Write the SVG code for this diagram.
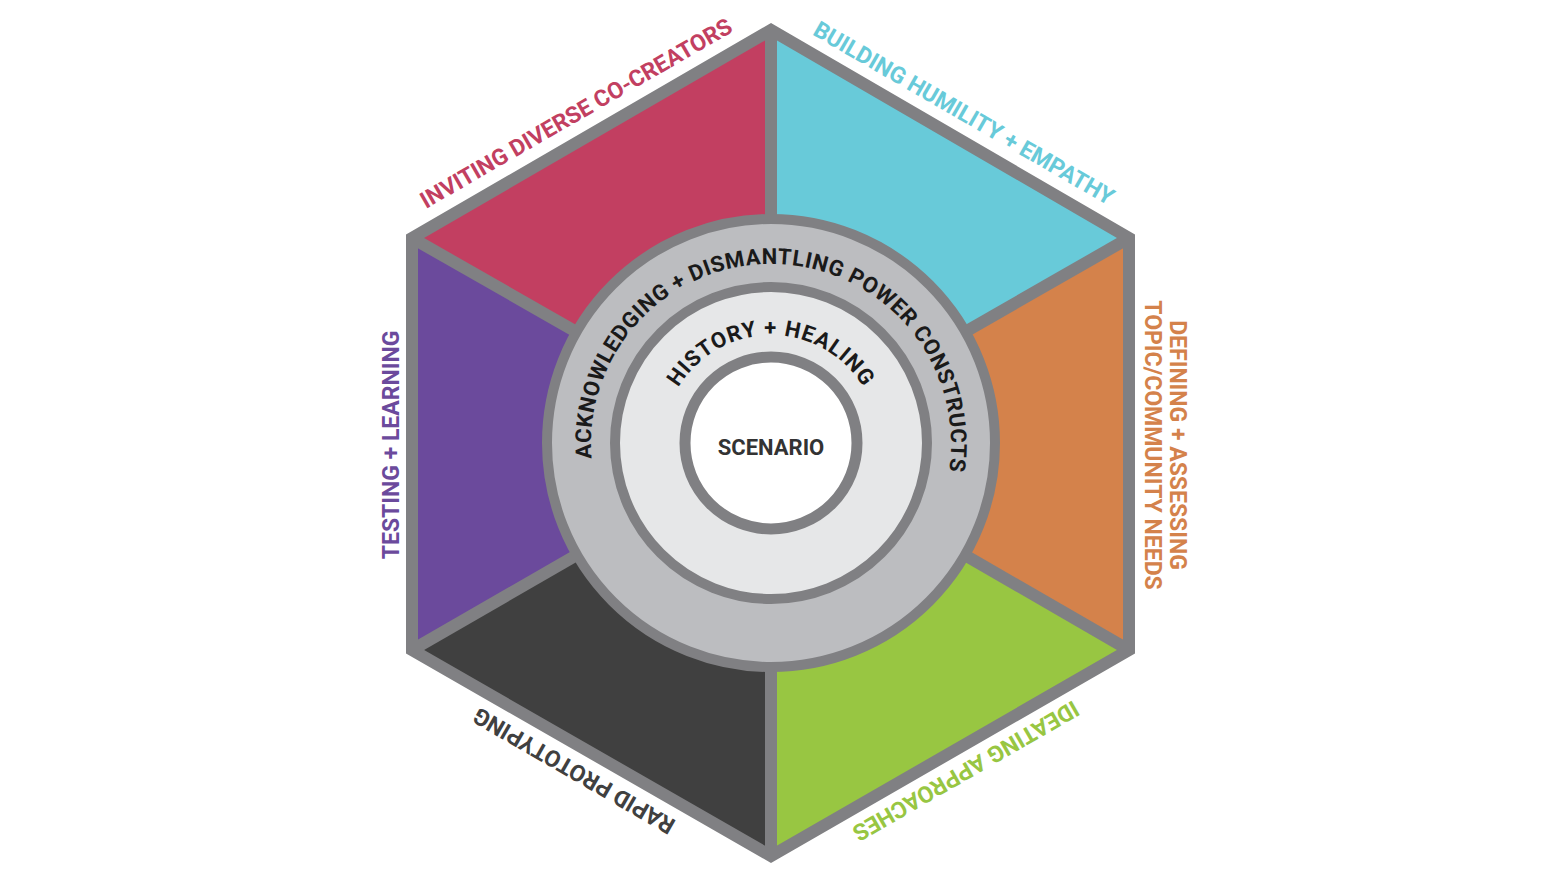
<svg xmlns="http://www.w3.org/2000/svg" width="1568" height="882" viewBox="0 0 1568 882">
<style>
.lbl{font-family:Roboto,"Liberation Sans",sans-serif;font-weight:bold;font-size:23px;text-anchor:middle}
.ring{font-family:Roboto,"Liberation Sans",sans-serif;font-weight:bold;font-size:22px;fill:#1a1a1a}
.div{stroke:#808083;stroke-width:12}
</style>
<defs>
<path id="arcOuter" d="M597,490 A180,180 0 1 1 945,490"/>
<path id="arcInner" d="M669.5,480 A108,108 0 1 1 872.5,480"/>
</defs>
<rect width="1568" height="882" fill="#fff"/>
<g id="segments">
<polygon id="seg-invite" points="771,443 412,238 771,30" fill="#c23f61"/>
<polygon id="seg-build" points="771,443 771,30 1129,238" fill="#68cad9"/>
<polygon id="seg-define" points="771,443 1129,238 1129,650" fill="#d4824b"/>
<polygon id="seg-ideate" points="771,443 1129,650 771,856" fill="#98c642"/>
<polygon id="seg-rapid" points="771,443 771,856 412,650" fill="#404040"/>
<polygon id="seg-test" points="771,443 412,650 412,238" fill="#6b4a9c"/>
</g>
<g id="connectors">
<line class="div" x1="771" y1="443" x2="771" y2="30"/>
<line class="div" x1="771" y1="443" x2="1129" y2="238"/>
<line class="div" x1="771" y1="443" x2="1129" y2="650"/>
<line class="div" x1="771" y1="443" x2="771" y2="856"/>
<line class="div" x1="771" y1="443" x2="412" y2="650"/>
<line class="div" x1="771" y1="443" x2="412" y2="238"/>
<polygon points="771,30 1129,238 1129,650 771,856 412,650 412,238" fill="none" stroke="#808083" stroke-width="12" stroke-linejoin="miter"/>
</g>
<g id="ring-outer">
<circle cx="771" cy="443" r="224" fill="#bcbdc0" stroke="#808083" stroke-width="10"/>
<text class="ring" letter-spacing="0.6"><textPath href="#arcOuter" startOffset="51%" text-anchor="middle">ACKNOWLEDGING + DISMANTLING POWER CONSTRUCTS</textPath></text>
</g>
<g id="ring-middle">
<circle cx="771" cy="443" r="156" fill="#e6e7e8" stroke="#808083" stroke-width="10"/>
<text class="ring" letter-spacing="1"><textPath href="#arcInner" startOffset="50%" text-anchor="middle">HISTORY + HEALING</textPath></text>
</g>
<g id="scenario">
<circle cx="771" cy="443" r="86" fill="#fff" stroke="#808083" stroke-width="11"/>
<text x="771" y="455" class="ring" text-anchor="middle" style="fill:#333">SCENARIO</text>
</g>
<g id="labels">
<text class="lbl" fill="#c23f61" transform="translate(580,120) rotate(-30)">INVITING DIVERSE CO-CREATORS</text>
<text class="lbl" fill="#68cad9" transform="translate(960,120) rotate(30)">BUILDING HUMILITY + EMPATHY</text>
<text class="lbl" fill="#d4824b" transform="translate(1170,445) rotate(90)">DEFINING + ASSESSING</text>
<text class="lbl" fill="#d4824b" transform="translate(1145,445) rotate(90)">TOPIC/COMMUNITY NEEDS</text>
<text class="lbl" fill="#98c642" transform="translate(962,764) rotate(150)">IDEATING APPROACHES</text>
<text class="lbl" fill="#404040" transform="translate(578,764) rotate(210)">RAPID PROTOTYPING</text>
<text class="lbl" fill="#6b4a9c" transform="translate(399,445) rotate(-90)">TESTING + LEARNING</text>
</g>
</svg>
